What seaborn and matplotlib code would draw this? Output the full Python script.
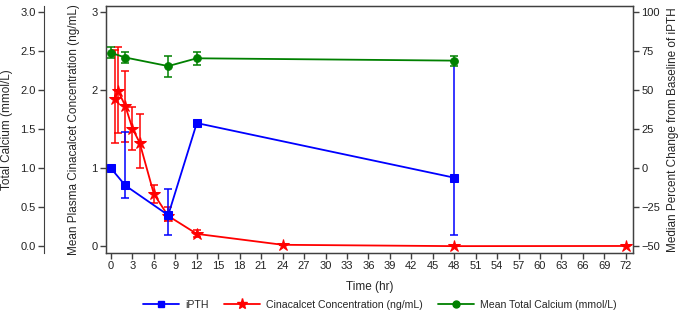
import numpy as np
import pandas as pd
import seaborn as sns
import matplotlib
matplotlib.use("Agg")
import matplotlib.pyplot as plt
from matplotlib.lines import Line2D

# ---- data ----
time_ipth = [0, 2, 8, 12, 48]
ipth_pct = [0, -11, -30, 29, -6]
ipth_lo = [0, -19, -43, 28, -43]
ipth_hi = [0, 23, -13, 30, 69]

time_cin = [0.5, 1, 2, 3, 4, 6, 8, 12, 24, 48, 72]
cin_conc = [1.89, 1.99, 1.80, 1.51, 1.33, 0.67, 0.39, 0.16, 0.02, 0.003, 0.005]
cin_lo = [1.32, 1.45, 1.34, 1.24, 1.00, 0.55, 0.32, 0.12, 0.02, 0.003, 0.005]
cin_hi = [2.52, 2.55, 2.25, 1.79, 1.69, 0.79, 0.50, 0.21, 0.02, 0.003, 0.005]

time_ca = [0, 2, 8, 12, 48]
ca_mean = [2.48, 2.42, 2.31, 2.41, 2.38]
ca_lo = [2.42, 2.35, 2.17, 2.33, 2.31]
ca_hi = [2.55, 2.49, 2.44, 2.49, 2.44]

xticks = list(range(0, 73, 3))

sns.set_style("ticks")
plt.rcParams['font.family'] = ['Liberation Sans', 'DejaVu Sans']
plt.rcParams['font.size'] = 8

BLUE, RED, GREEN = '#0000FF', '#FF0000', '#008000'
SPC = '#404040'

fig = plt.figure(figsize=(6.85, 3.15), dpi=100)
ax = fig.add_axes([106/685, 1-253/315, (633-106)/685, (253-6)/315])
axr = ax.twinx()
axc = ax.twinx()

ylim = (-0.085, 3.08)
ax.set_ylim(*ylim)
axc.set_ylim(*ylim)
axr.set_ylim(ylim[0]*50-50, ylim[1]*50-50)
ax.set_xlim(-0.7, 73)

# iPTH on right axis
axr.errorbar(time_ipth, ipth_pct,
             yerr=[np.array(ipth_pct)-np.array(ipth_lo), np.array(ipth_hi)-np.array(ipth_pct)],
             fmt='none', ecolor=BLUE, elinewidth=1.1, capsize=3.2, capthick=1.1)
sns.lineplot(x=time_ipth, y=ipth_pct, ax=axr, color=BLUE, marker='s', markersize=6,
             markeredgecolor=BLUE, linewidth=1.3, legend=False)

# Cinacalcet on main axis
ax.errorbar(time_cin, cin_conc,
            yerr=[np.array(cin_conc)-np.array(cin_lo), np.array(cin_hi)-np.array(cin_conc)],
            fmt='none', ecolor=RED, elinewidth=1.1, capsize=3.2, capthick=1.1)
sns.lineplot(x=time_cin, y=cin_conc, ax=ax, color=RED, marker='*', markersize=9,
             markeredgecolor=RED, linewidth=1.3, legend=False)

# Calcium on outer axis
axc.errorbar(time_ca, ca_mean,
             yerr=[np.array(ca_mean)-np.array(ca_lo), np.array(ca_hi)-np.array(ca_mean)],
             fmt='none', ecolor=GREEN, elinewidth=1.1, capsize=3.2, capthick=1.1)
sns.lineplot(x=time_ca, y=ca_mean, ax=axc, color=GREEN, marker='o', markersize=5.5,
             markeredgecolor=GREEN, linewidth=1.3, legend=False)

# axes styling
ax.set_xticks(xticks)
ax.set_yticks([0, 1, 2, 3])
ax.set_yticklabels(['0', '1', '2', '3'])
ax.set_xlabel('Time (hr)', fontsize=8.5, labelpad=7)
ax.set_ylabel('Mean Plasma Cinacalcet Concentration (ng/mL)', fontsize=8.5, labelpad=8)
for s in ax.spines.values():
    s.set_color(SPC)
    s.set_linewidth(1.0)
ax.tick_params(colors='#222222', labelsize=8, width=1, length=4, color=SPC, pad=2)

axr.set_yticks([-50, -25, 0, 25, 50, 75, 100])
axr.set_ylabel('Median Percent Change from Baseline of iPTH', fontsize=8.5, labelpad=5)
axr.tick_params(colors='#222222', labelsize=8, width=1, length=4, color=SPC, pad=2)
for s in axr.spines.values():
    s.set_color(SPC)

axc.spines['left'].set_position(('outward', 44.6))
axc.spines['left'].set_visible(True)
axc.spines['left'].set_color(SPC)
for k in ['right', 'top', 'bottom']:
    axc.spines[k].set_visible(False)
axc.yaxis.set_ticks_position('left')
axc.yaxis.set_label_position('left')
axc.set_yticks([0, 0.5, 1.0, 1.5, 2.0, 2.5, 3.0])
axc.set_yticklabels(['0.0', '0.5', '1.0', '1.5', '2.0', '2.5', '3.0'])
axc.set_ylabel('Total Calcium (mmol/L)', fontsize=8.5, labelpad=5)
axc.tick_params(colors='#222222', labelsize=8, width=1, length=4, color=SPC, pad=2)

handles = [
    Line2D([], [], color=BLUE, marker='s', markersize=5, linewidth=1.3),
    Line2D([], [], color=RED, marker='*', markersize=8, linewidth=1.3),
    Line2D([], [], color=GREEN, marker='o', markersize=5, linewidth=1.3),
]
labels = ['iPTH', 'Cinacalcet Concentration (ng/mL)', 'Mean Total Calcium (mmol/L)']
fig.legend(handles, labels, loc='center', bbox_to_anchor=(380/685, 1-305/315), ncol=3,
           frameon=False, fontsize=7.6, handlelength=3.4, columnspacing=1.4, handletextpad=0.6)

fig.savefig('out.png', dpi=100)
